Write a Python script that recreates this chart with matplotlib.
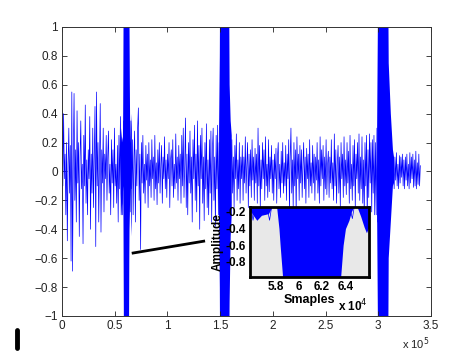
import numpy as np
import matplotlib
matplotlib.use('Agg')
import matplotlib.pyplot as plt
from matplotlib.lines import Line2D

plt.rcParams['font.family'] = ['Liberation Sans', 'DejaVu Sans']

# background noise of the recording (one row ~ 0.14e5 samples)
noise = [
    0.28, -0.10, 0.40, -0.05, 0.12, -0.30, 0.20, -0.48, 0.05, 0.30, -0.15, 0.18, -0.62, 0.55, -0.69, 0.10, 0.54, -0.20, 0.15, -0.35,
    0.42, -0.08, 0.20, -0.45, 0.10, 0.35, -0.12, 0.05, -0.50, 0.25, -0.10, 0.46, -0.22, 0.08, -0.30, 0.15, -0.05, 0.38, -0.40, 0.12,
    -0.15, 0.30, -0.25, 0.10, 0.45, -0.52, 0.55, -0.10, 0.20, -0.35, 0.05, 0.47, -0.42, 0.15, -0.08, 0.30, -0.28, 0.12, -0.05, 0.25,
    -0.20, 0.10, 0.28, -0.15, 0.05, -0.30, 0.22, -0.08, 0.15, -0.25, 0.30, -0.10, 0.05, -0.22, 0.18, -0.35, 0.25, -0.12, 0.38, -0.30,
    0.20, -0.30, 0.35, -0.10, 0.25, -0.35, 0.30, -0.40, 0.35, -0.30, 0.15, -0.28, 0.35, -0.12, 0.22, -0.30, 0.10, 0.28, -0.35, 0.15,
    -0.10, 0.30, 0.44, -0.20, 0.12, -0.54, 0.20, -0.08, 0.25, -0.15, 0.05, -0.22, 0.18, -0.06, 0.12, -0.25, 0.20, -0.10, 0.08, -0.18,
    0.22, -0.05, 0.10, -0.20, 0.25, -0.12, 0.06, -0.23, 0.15, -0.08, 0.20, -0.15, 0.05, 0.18, -0.22, 0.10, -0.05, 0.24, -0.12, 0.08,
    -0.18, 0.12, -0.05, 0.20, -0.25, 0.08, 0.15, -0.10, 0.22, -0.18, 0.05, -0.12, 0.26, -0.08, 0.10, -0.20, 0.18, -0.05, 0.12, -0.22,
    0.25, -0.10, 0.30, -0.18, 0.05, 0.37, -0.25, 0.12, -0.30, 0.20, -0.08, 0.28, -0.15, 0.10, -0.35, 0.22, -0.05, 0.32, -0.20, 0.12,
    -0.28, 0.35, -0.10, 0.18, -0.40, 0.25, -0.05, 0.30, -0.22, 0.10, -0.34, 0.20, -0.12, 0.33, -0.25, 0.08, -0.30, 0.22, -0.15, 0.28,
    -0.35, 0.15, 0.30, -0.20, 0.10, -0.38, 0.25, -0.12, 0.32, -0.30, 0.20, -0.35, 0.35, -0.30, 0.30, -0.35, 0.30, -0.30, 0.35, -0.30,
    0.30, -0.25, 0.28, -0.10, 0.20, -0.28, 0.05, 0.22, -0.15, 0.10, -0.25, 0.18, -0.05, 0.26, -0.20, 0.08, -0.12, 0.20, -0.22, 0.10,
    -0.05, 0.18, -0.20, 0.10, -0.08, 0.24, -0.15, 0.05, 0.20, -0.25, 0.12, -0.10, 0.15, -0.18, 0.22, -0.06, 0.10, -0.20, 0.16, -0.08,
    0.12, -0.22, 0.30, -0.10, 0.18, -0.25, 0.08, -0.12, 0.20, -0.05, 0.15, -0.20, 0.24, -0.10, 0.05, -0.18, 0.22, -0.14, 0.10, -0.05,
    0.18, -0.15, 0.08, -0.20, 0.12, -0.05, 0.16, -0.22, 0.10, 0.20, -0.12, 0.05, -0.18, 0.14, -0.08, 0.20, -0.15, 0.06, -0.10, 0.18,
    -0.20, 0.12, -0.05, 0.22, -0.28, 0.10, 0.30, -0.15, 0.08, -0.25, 0.20, -0.10, 0.15, -0.30, 0.24, -0.05, 0.12, -0.20, 0.18, -0.08,
    0.15, -0.18, 0.05, 0.20, -0.12, 0.10, -0.22, 0.16, -0.05, 0.12, -0.18, 0.22, -0.10, 0.06, -0.15, 0.18, -0.08, 0.12, -0.20, 0.10,
    -0.06, 0.20, -0.15, 0.08, -0.22, 0.24, -0.10, 0.15, -0.05, 0.18, -0.20, 0.10, -0.12, 0.22, -0.16, 0.05, 0.14, -0.18, 0.10, -0.08,
    0.22, -0.12, 0.06, -0.20, 0.26, -0.10, 0.15, -0.22, 0.05, 0.18, -0.15, 0.10, -0.25, 0.20, -0.05, 0.12, -0.18, 0.24, -0.10, 0.08,
    -0.16, 0.20, -0.08, 0.14, -0.22, 0.25, -0.12, 0.05, -0.20, 0.18, -0.10, 0.22, -0.26, 0.12, -0.05, 0.20, -0.15, 0.26, -0.20, 0.10,
    -0.12, 0.24, -0.22, 0.08, -0.30, 0.20, -0.10, 0.25, -0.35, 0.15, -0.18, 0.26, -0.08, 0.20, -0.28, 0.22, -0.15, 0.25, -0.30, 0.20,
    -0.30, 0.30, -0.35, 0.35, -0.30, 0.30, -0.35, 0.35, -0.30, 0.30, -0.35, 0.35, -0.30, 0.30, -0.35, 0.30, -0.25, 0.20, -0.15, 0.12,
    -0.10, 0.12, -0.05, 0.08, -0.12, 0.10, -0.06, 0.13, -0.10, 0.05, -0.12, 0.11, -0.08, 0.10, -0.04, 0.12, -0.10, 0.08, -0.12, 0.10,
    -0.06, 0.12, -0.10, 0.05, -0.12, 0.13, -0.08, 0.10, -0.05, 0.12, -0.11, 0.08, -0.10, 0.14, -0.12, 0.06, -0.09, 0.12, -0.10, 0.04,
]
noise_end = 3.40e5
noise_x = np.linspace(0, noise_end, len(noise))

# the three bursts: envelope (upper / lower) at given sample positions
burst1_x = [5.57e4, 5.60e4, 5.62e4, 5.64e4, 5.68e4, 5.74e4, 5.77e4, 5.79e4, 5.81e4, 5.83e4, 5.84e4, 5.86e4, 5.87e4,
            6.34e4, 6.36e4, 6.38e4, 6.40e4, 6.43e4, 6.45e4, 6.47e4, 6.49e4, 6.50e4, 6.53e4, 6.56e4, 6.58e4, 6.61e4]
burst1_lo = [-0.15, -0.22, -0.26, -0.30, -0.24, -0.22, -0.14, -0.10, -0.14, -0.40, -0.60, -0.96, -1.30,
             -1.30, -0.96, -0.60, -0.40, -0.30, -0.20, -0.14, -0.10, -0.14, -0.25, -0.38, -0.45, -0.35]
burst1_hi = [0.15, 0.22, 0.26, 0.30, 0.24, 0.22, 0.20, 0.30, 0.60, 1.00, 1.30, 1.30, 1.30,
             1.30, 1.30, 1.30, 1.00, 0.60, 0.40, 0.30, 0.20, 0.20, 0.25, 0.35, 0.40, 0.30]

burst2_x = [1.49e5, 1.497e5, 1.50e5, 1.585e5, 1.59e5, 1.60e5, 1.61e5]
burst2_lo = [-0.35, -0.80, -1.30, -1.30, -0.90, -0.45, -0.30]
burst2_hi = [0.30, 0.80, 1.30, 1.30, 0.60, 0.35, 0.25]

burst3_x = [2.99e5, 2.995e5, 3.00e5, 3.095e5, 3.10e5, 3.12e5, 3.14e5, 3.15e5]
burst3_lo = [-0.30, -0.80, -1.30, -1.30, -0.60, -0.35, -0.10, -0.08]
burst3_hi = [0.30, 0.80, 1.30, 1.30, 0.75, 0.40, 0.15, 0.10]

bursts = [(burst1_x, burst1_lo, burst1_hi), (burst2_x, burst2_lo, burst2_hi), (burst3_x, burst3_lo, burst3_hi)]

# axes ticks
xticks = [0, 0.5e5, 1e5, 1.5e5, 2e5, 2.5e5, 3e5, 3.5e5]
xlabels = ['0', '0.5', '1', '1.5', '2', '2.5', '3', '3.5']
yticks = [-1, -0.8, -0.6, -0.4, -0.2, 0, 0.2, 0.4, 0.6, 0.8, 1]
ylabels = ['\u22121', '\u22120.8', '\u22120.6', '\u22120.4', '\u22120.2', '0', '0.2', '0.4', '0.6', '0.8', '1']

in_xticks = [5.8e4, 6.0e4, 6.2e4, 6.4e4]
in_xlabels = ['5.8', '6', '6.2', '6.4']
in_yticks = [-0.8, -0.6, -0.4, -0.2]
in_ylabels = ['-0.8', '-0.6', '-0.4', '-0.2']

# pointer from the first burst to the zoom box
pointer_x = [0.661e5, 1.357e5]
pointer_y = [-0.566, -0.481]

blue = '#0000ff'

fig = plt.figure(figsize=(4.74, 3.55), dpi=100)
ax = fig.add_axes([0.131, 0.110, 0.778, 0.814])

ax.plot(noise_x, noise, color=blue, lw=0.5)
for bx, blo, bhi in bursts:
    ax.fill_between(bx, blo, bhi, color=blue, lw=0)
ax.plot(pointer_x, pointer_y, color='black', lw=2, solid_capstyle='butt')

ax.set_xlim(0, 3.5e5)
ax.set_ylim(-1, 1)
ax.set_xticks(xticks)
ax.set_xticklabels(xlabels)
ax.set_yticks(yticks)
ax.set_yticklabels(ylabels)
ax.tick_params(direction='in', top=True, right=True, length=3.5, width=0.6,
               labelsize=8.5, colors='#222222', pad=3)
for s in ax.spines.values():
    s.set_linewidth(0.7)
    s.set_color('#333333')
fig.text(0.905, 0.008, 'x 10$^5$', fontsize=8, ha='right', va='bottom', color='#222222')

# zoom box
ins = fig.add_axes([0.527, 0.220, 0.251, 0.197])
ins.set_facecolor('#e8e8e8')
ins.plot(noise_x, noise, color=blue, lw=0.5)
for bx, blo, bhi in bursts:
    ins.fill_between(bx, blo, bhi, color=blue, lw=0)
ins.set_xlim(5.58e4, 6.60e4)
ins.set_ylim(-0.98, -0.14)
ins.set_xticks(in_xticks)
ins.set_xticklabels(in_xlabels, fontweight='bold')
ins.set_yticks(in_yticks)
ins.set_yticklabels(in_ylabels, fontweight='bold')
ins.tick_params(direction='in', length=0, labelsize=8.5, pad=3)
for s in ins.spines.values():
    s.set_linewidth(2)
    s.set_color('black')
ins.set_xlabel('Smaples', fontsize=9, fontweight='bold', labelpad=1)
ins.set_ylabel('Amplitude', fontsize=8.5, fontweight='bold', labelpad=1)
fig.text(0.775, 0.115, 'x 10$^4$', fontsize=8.5, fontweight='bold', ha='right', va='bottom')

# small mark in the lower left corner
fig.add_artist(Line2D([0.036, 0.036], [0.02, 0.07], color='black', lw=3.5, solid_capstyle='round'))

fig.savefig('out.png', dpi=100)
